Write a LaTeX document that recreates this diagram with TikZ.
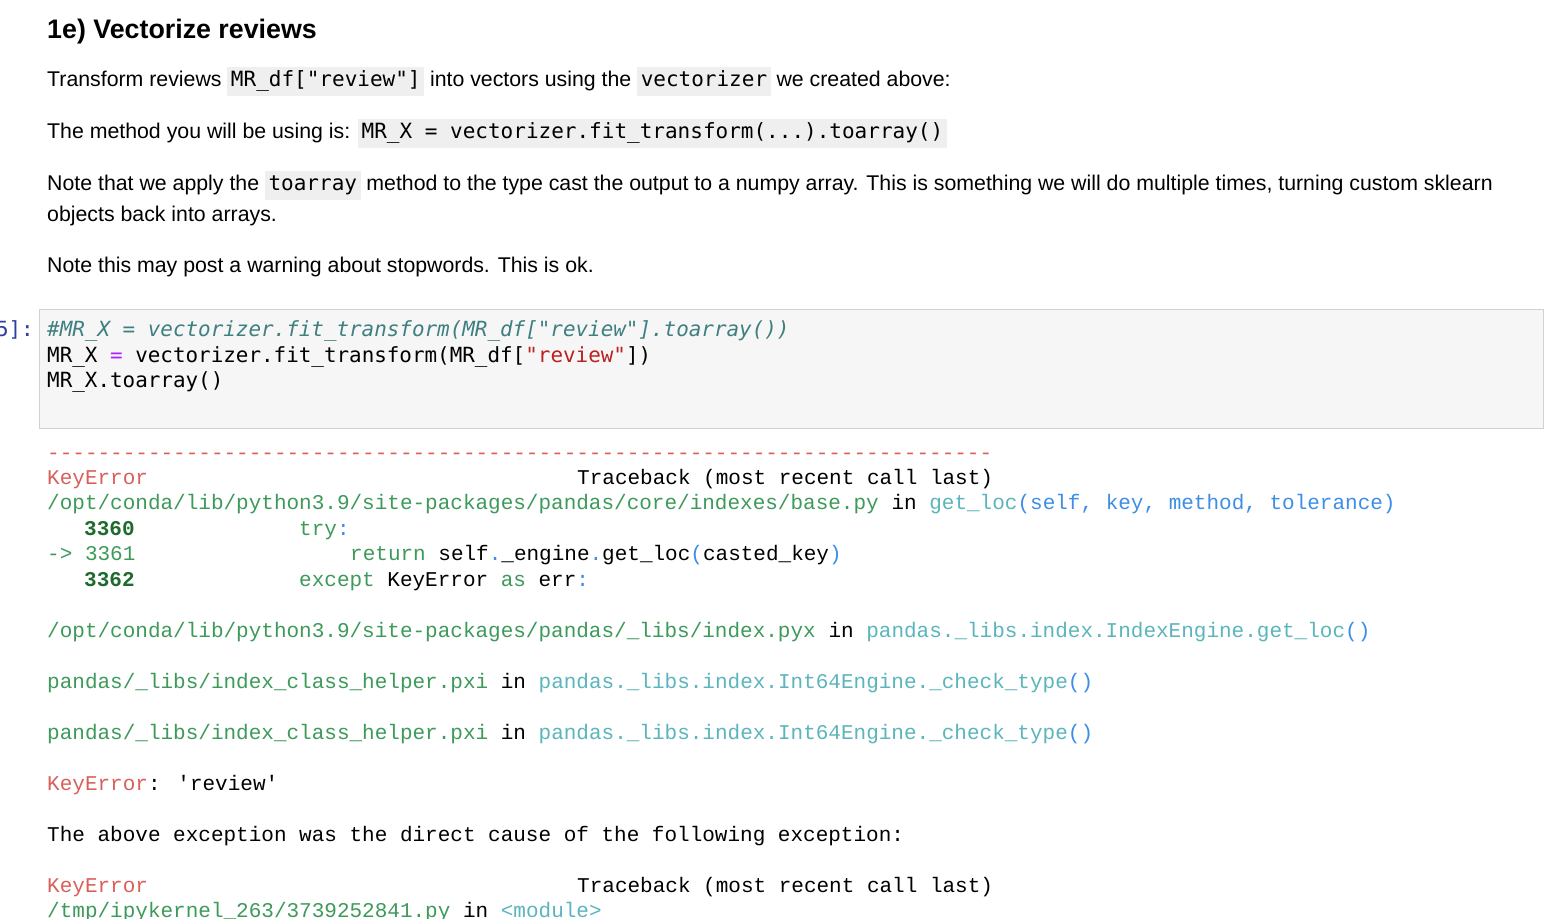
\documentclass[tikz,border=0pt]{standalone}
\usepackage{fontspec}
\setmainfont{Liberation Sans}
\newfontfamily\cellmono{DejaVu Sans Mono}
\newfontfamily\outmono{Liberation Mono}
\definecolor{ered}{HTML}{D9605A}
\definecolor{egreen}{HTML}{3E9A5A}
\definecolor{edgreen}{HTML}{1F6B2E}
\definecolor{ecyan}{HTML}{5BB5BC}
\definecolor{eblue}{HTML}{3D8EE6}
\definecolor{ccomm}{HTML}{3F7F80}
\definecolor{cstr}{HTML}{BA2121}
\definecolor{cpurp}{HTML}{AA22FF}
\definecolor{prompt}{HTML}{303F9F}
\definecolor{hlbg}{HTML}{EFEFEF}
\newcommand{\ic}[1]{{\setlength{\fboxsep}{3.5pt}\colorbox{hlbg}{\cellmono\fontsize{21}{22}\selectfont\strut #1}}}
\tikzset{
  txt/.style={anchor=base west,inner sep=0pt,font=\fontsize{21.3}{24}\selectfont},
  code/.style={anchor=base west,inner sep=0pt,font=\cellmono\fontsize{20.9}{24}\selectfont},
  outtxt/.style={anchor=base west,inner sep=0pt,font=\outmono\fontsize{21}{24}\selectfont},
}
\begin{document}
\begin{tikzpicture}[x=1pt,y=-1pt]
\useasboundingbox[fill=white] (0,0) rectangle (1568,918);
\node[txt,font=\bfseries\fontsize{26.8}{30}\selectfont] (title) at (47,38) {1e) Vectorize reviews};
\node[txt] (l1) at (47,86) {Transform reviews \ic{MR\_df["review"]} into vectors using the \ic{vectorizer} we created above:};
\node[txt] (l2) at (47,138) {The method you will be using is: \ic{MR\_X = vectorizer.fit\_transform(...).toarray()}};
\node[txt] (l3) at (47,190) {Note that we apply the \ic{toarray} method to the type cast the output to a numpy array. This is something we will do multiple times, turning custom sklearn};
\node[txt] (l4) at (47,221) {objects back into arrays.};
\node[txt] (l5) at (47,272) {Note this may post a warning about stopwords. This is ok.};
% cell
\draw[fill=black!3.5,draw=black!18] (39.5,309.5) rectangle (1543.5,428.5);
\node[code,anchor=base east,text=prompt] (pr) at (34,336) {[5]:};
\node[code,text=ccomm] (c1) at (47,336) {\itshape\#MR\_X = vectorizer.fit\_transform(MR\_df["review"].toarray())};
\node[code] (c2) at (47,362) {MR\_X \textcolor{cpurp}{=} vectorizer.fit\_transform(MR\_df[\textcolor{cstr}{"review"}])};
\node[code] (c3) at (47,387) {MR\_X.toarray()};
% output
\node[outtxt,text=ered] (dash) at (47,459) {---------------------------------------------------------------------------};
\node[outtxt,text=ered] (k1) at (47,484) {KeyError};
\node[outtxt] (tb1) at (577,484) {Traceback (most recent call last)};
\node[outtxt] (p1) at (47,509) {\textcolor{egreen}{/opt/conda/lib/python3.9/site-packages/pandas/core/indexes/base.py} in \textcolor{ecyan}{get\_loc}\textcolor{eblue}{(self, key, method, tolerance)}};
\node[outtxt,text=edgreen] (n1) at (84,535) {\bfseries 3360};
\node[outtxt,text=egreen] (t1) at (299,535) {try\textcolor{eblue}{:}};
\node[outtxt,text=egreen] (n2) at (47,560) {-> 3361};
\node[outtxt] (t2) at (350,560) {\textcolor{egreen}{return} self\textcolor{eblue}{.}\_engine\textcolor{eblue}{.}get\_loc\textcolor{eblue}{(}casted\_key\textcolor{eblue}{)}};
\node[outtxt,text=edgreen] (n3) at (84,586) {\bfseries 3362};
\node[outtxt] (t3) at (299,586) {\textcolor{egreen}{except} KeyError \textcolor{egreen}{as} err\textcolor{eblue}{:}};
\node[outtxt] (p2) at (47,637) {\textcolor{egreen}{/opt/conda/lib/python3.9/site-packages/pandas/\_libs/index.pyx} in \textcolor{ecyan}{pandas.\_libs.index.IndexEngine.get\_loc}\textcolor{eblue}{()}};
\node[outtxt] (p3) at (47,688) {\textcolor{egreen}{pandas/\_libs/index\_class\_helper.pxi} in \textcolor{ecyan}{pandas.\_libs.index.Int64Engine.\_check\_type}\textcolor{eblue}{()}};
\node[outtxt] (p4) at (47,739) {\textcolor{egreen}{pandas/\_libs/index\_class\_helper.pxi} in \textcolor{ecyan}{pandas.\_libs.index.Int64Engine.\_check\_type}\textcolor{eblue}{()}};
\node[outtxt] (ke) at (47,790) {\textcolor{ered}{KeyError}: 'review'};
\node[outtxt] (ab) at (47,841) {The above exception was the direct cause of the following exception:};
\node[outtxt,text=ered] (k2) at (47,892) {KeyError};
\node[outtxt] (tb2) at (577,892) {Traceback (most recent call last)};
\node[outtxt] (p5) at (47,917) {\textcolor{egreen}{/tmp/ipykernel\_263/3739252841.py} in \textcolor{ecyan}{<module>}};
\end{tikzpicture}
\end{document}
